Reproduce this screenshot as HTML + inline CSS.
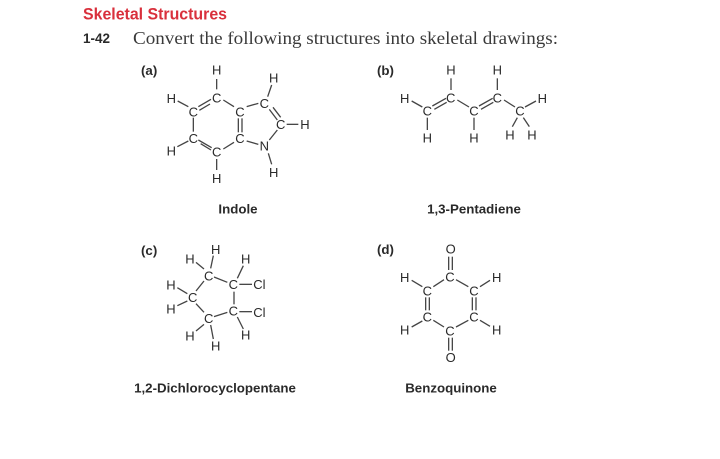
<!DOCTYPE html>
<html>
<head>
<meta charset="utf-8">
<style>
html,body{margin:0;padding:0;background:#fff;width:720px;height:459px;overflow:hidden}
svg{display:block}
.blur{filter:blur(.35px)}
.b line{stroke:#444;stroke-width:3.9;stroke-linecap:butt}
.a text{font-family:"Liberation Sans",sans-serif;font-size:39px;fill:#2a2a2a;text-anchor:middle}
.lab{font-family:"Liberation Sans",sans-serif;font-weight:bold;font-size:13.3px;fill:#2a2a2a}
</style>
</head>
<body>
<svg width="720" height="459" viewBox="0 0 720 459" xmlns="http://www.w3.org/2000/svg">
<rect width="720" height="459" fill="#fff"/>
<g class="blur">
<text x="83" y="19.5" font-family="Liberation Sans, sans-serif" font-weight="bold" font-size="16.5" fill="#d9303c" textLength="144" lengthAdjust="spacingAndGlyphs">Skeletal Structures</text>
<text x="83" y="43" font-family="Liberation Sans, sans-serif" font-weight="bold" font-size="14" fill="#2a2a2a" textLength="27" lengthAdjust="spacingAndGlyphs">1-42</text>
<text x="133" y="44" font-family="Liberation Serif, serif" font-size="18" fill="#3a3a3a" textLength="425" lengthAdjust="spacingAndGlyphs">Convert the following structures into skeletal drawings:</text>

<text class="lab" x="141" y="75">(a)</text>
<text class="lab" x="377" y="75">(b)</text>
<text class="lab" x="141" y="255">(c)</text>
<text class="lab" x="377" y="254">(d)</text>

<text class="lab" x="238" y="213.5" text-anchor="middle">Indole</text>
<text class="lab" x="474" y="213.5" text-anchor="middle">1,3-Pentadiene</text>
<text class="lab" x="215" y="392.5" text-anchor="middle">1,2-Dichlorocyclopentane</text>
<text class="lab" x="451" y="392.5" text-anchor="middle">Benzoquinone</text>

<!-- (a) Indole -->
<g transform="translate(130,55) scale(.33333)">
<g class="b">
<line x1="260" y1="72" x2="260" y2="103"/>
<line x1="143" y1="138" x2="175" y2="155"/>
<line x1="205" y1="155" x2="243" y2="133"/>
<line x1="208" y1="166" x2="240" y2="147"/>
<line x1="190" y1="188" x2="190" y2="230"/>
<line x1="205" y1="255" x2="245" y2="278"/>
<line x1="212" y1="266" x2="243" y2="285"/>
<line x1="142" y1="275" x2="175" y2="258"/>
<line x1="260" y1="312" x2="260" y2="345"/>
<line x1="280" y1="282" x2="312" y2="262"/>
<line x1="325" y1="190" x2="325" y2="232"/>
<line x1="336" y1="190" x2="336" y2="232"/>
<line x1="280" y1="135" x2="312" y2="155"/>
<line x1="350" y1="155" x2="385" y2="145"/>
<line x1="413" y1="125" x2="425" y2="90"/>
<line x1="418" y1="163" x2="442" y2="195"/>
<line x1="429" y1="157" x2="452" y2="187"/>
<line x1="470" y1="208" x2="505" y2="208"/>
<line x1="442" y1="225" x2="418" y2="255"/>
<line x1="350" y1="258" x2="385" y2="268"/>
<line x1="415" y1="295" x2="425" y2="328"/>
</g>
<g class="a">
<text x="260" y="142">C</text><text x="190" y="184">C</text><text x="190" y="264">C</text><text x="260" y="304">C</text>
<text x="330" y="184">C</text><text x="330" y="264">C</text><text x="403" y="159">C</text><text x="452" y="222">C</text><text x="403" y="286">N</text>
<text x="260" y="59">H</text><text x="124" y="144">H</text><text x="124" y="301">H</text><text x="260" y="384">H</text>
<text x="431" y="82">H</text><text x="525" y="222">H</text><text x="431" y="366">H</text>
</g>
</g>

<!-- (b) 1,3-Pentadiene -->
<g transform="translate(370,55) scale(.33333)">
<g class="b">
<line x1="125" y1="138" x2="157" y2="156"/>
<line x1="172" y1="188" x2="172" y2="225"/>
<line x1="187" y1="153" x2="228" y2="130"/>
<line x1="193" y1="163" x2="230" y2="142"/>
<line x1="243" y1="70" x2="243" y2="105"/>
<line x1="262" y1="135" x2="297" y2="156"/>
<line x1="312" y1="188" x2="312" y2="225"/>
<line x1="327" y1="153" x2="368" y2="130"/>
<line x1="333" y1="163" x2="370" y2="142"/>
<line x1="382" y1="70" x2="382" y2="105"/>
<line x1="402" y1="135" x2="435" y2="156"/>
<line x1="465" y1="156" x2="498" y2="138"/>
<line x1="442" y1="188" x2="427" y2="215"/>
<line x1="460" y1="188" x2="478" y2="215"/>
</g>
<g class="a">
<text x="172" y="182">C</text><text x="242" y="142">C</text><text x="312" y="182">C</text><text x="382" y="142">C</text><text x="450" y="182">C</text>
<text x="104" y="144">H</text><text x="172" y="262">H</text><text x="243" y="59">H</text><text x="312" y="262">H</text><text x="382" y="59">H</text>
<text x="517" y="144">H</text><text x="420" y="254">H</text><text x="486" y="254">H</text>
</g>
</g>

<!-- (c) 1,2-Dichlorocyclopentane -->
<g transform="translate(130,235) scale(.33333)">
<g class="b">
<line x1="242" y1="100" x2="250" y2="62"/>
<line x1="198" y1="82" x2="222" y2="102"/>
<line x1="252" y1="126" x2="292" y2="142"/>
<line x1="322" y1="130" x2="340" y2="92"/>
<line x1="328" y1="148" x2="366" y2="148"/>
<line x1="312" y1="170" x2="312" y2="208"/>
<line x1="328" y1="230" x2="366" y2="230"/>
<line x1="322" y1="246" x2="340" y2="282"/>
<line x1="292" y1="232" x2="252" y2="245"/>
<line x1="198" y1="288" x2="222" y2="268"/>
<line x1="242" y1="270" x2="250" y2="312"/>
<line x1="222" y1="232" x2="198" y2="206"/>
<line x1="198" y1="168" x2="222" y2="138"/>
<line x1="142" y1="158" x2="172" y2="176"/>
<line x1="142" y1="212" x2="172" y2="198"/>
</g>
<g class="a">
<text x="236" y="136">C</text><text x="310" y="162">C</text><text x="310" y="242">C</text><text x="236" y="264">C</text><text x="188" y="201">C</text>
<text x="257" y="57">H</text><text x="180" y="86">H</text><text x="347" y="86">H</text><text x="388" y="162">Cl</text><text x="388" y="246">Cl</text>
<text x="123" y="164">H</text><text x="123" y="236">H</text><text x="347" y="314">H</text><text x="180" y="317">H</text><text x="257" y="347">H</text>
</g>
</g>

<!-- (d) Benzoquinone -->
<g transform="translate(370,235) scale(.33333)">
<g class="b">
<line x1="236" y1="65" x2="236" y2="105"/>
<line x1="247" y1="65" x2="247" y2="105"/>
<line x1="125" y1="136" x2="157" y2="155"/>
<line x1="222" y1="134" x2="190" y2="155"/>
<line x1="258" y1="134" x2="295" y2="155"/>
<line x1="330" y1="155" x2="360" y2="136"/>
<line x1="167" y1="187" x2="167" y2="226"/>
<line x1="178" y1="187" x2="178" y2="226"/>
<line x1="307" y1="187" x2="307" y2="226"/>
<line x1="318" y1="187" x2="318" y2="226"/>
<line x1="125" y1="276" x2="157" y2="258"/>
<line x1="190" y1="256" x2="222" y2="276"/>
<line x1="258" y1="276" x2="295" y2="256"/>
<line x1="330" y1="256" x2="360" y2="274"/>
<line x1="236" y1="308" x2="236" y2="347"/>
<line x1="247" y1="308" x2="247" y2="347"/>
</g>
<g class="a">
<text x="240" y="139">C</text><text x="172" y="182">C</text><text x="172" y="259">C</text><text x="240" y="302">C</text><text x="312" y="182">C</text><text x="312" y="259">C</text>
<text x="242" y="56">O</text><text x="242" y="381">O</text><text x="104" y="141">H</text><text x="104" y="299">H</text><text x="380" y="141">H</text><text x="380" y="299">H</text>
</g>
</g>
</g>
</svg>
</body>
</html>
